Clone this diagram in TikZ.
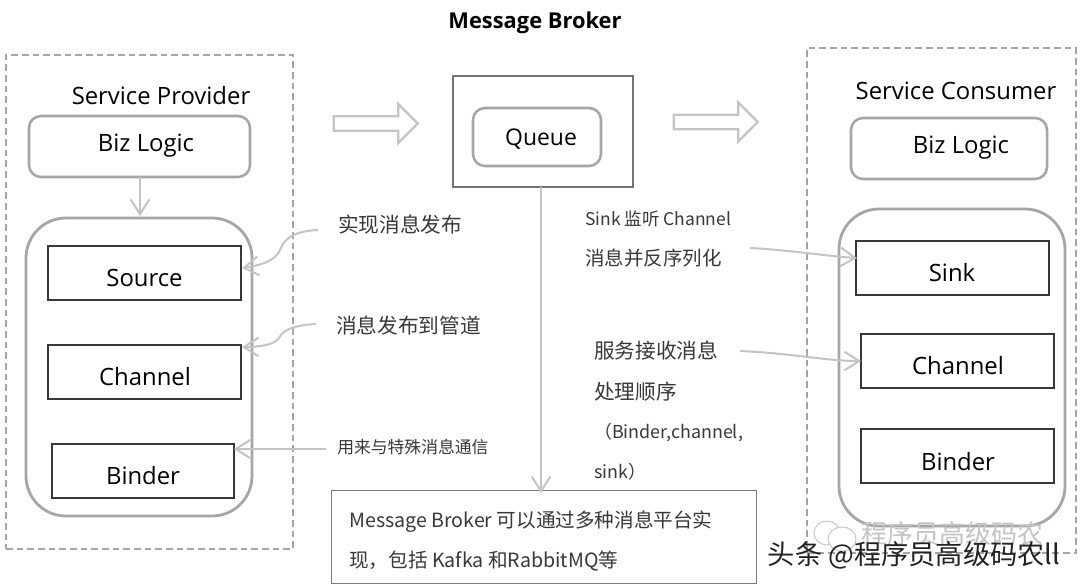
\documentclass[tikz,border=0pt]{standalone}
\usepackage{fontspec}
\setmainfont{Open Sans}
\newfontfamily\cjk{Noto Sans CJK SC}
\usetikzlibrary{shapes.arrows,arrows.meta}
\definecolor{edge}{HTML}{A6A6A6}
\definecolor{lite}{HTML}{C4C4C4}
\definecolor{ink}{HTML}{222222}
\tikzset{
  x=0.75pt,y=-0.75pt,
  bx/.style 2 args={minimum width=#1*0.75pt,minimum height=#2*0.75pt,inner sep=0pt,outer sep=0pt,anchor=center},
  dashbox/.style={draw=edge,line width=1.5pt,dash pattern=on 5pt off 3pt},
  round/.style={draw=edge,line width=1.9pt,rounded corners=9pt},
  biground/.style={draw=edge,line width=2.1pt,rounded corners=30pt},
  plain/.style={draw=ink!90,line width=0.9pt},
  lbl/.style={font=\fontsize{17.9}{20}\selectfont,text=black,inner sep=0pt},
  cn/.style={font=\fontsize{15.5}{16}\selectfont\cjk,text=ink!90,inner sep=0pt,anchor=west},
  hollow/.style={single arrow,draw=lite,line width=1.7pt,fill=white,minimum width=39*0.75pt,single arrow head extend=8.5*0.75pt,minimum height=84*0.75pt,inner sep=3pt},
  conn/.style={draw=lite,line width=1.5pt,-{Straight Barb[length=11pt,width=14pt,line width=1.5pt]}},
}
\begin{document}
\begin{tikzpicture}
\useasboundingbox (0,0) rectangle (1080,586);
\fill[white] (0,0) rectangle (1080,586);

\node[lbl,font=\fontsize{16.4}{20}\selectfont\bfseries] (title) at (535,22.5) {Message Broker};

% dashed frames
\node[dashbox,bx={287}{494}] (prov) at (149.5,302) {};
\node[dashbox,bx={269}{505}] (cons) at (941.5,300.5) {};
\node[lbl] (provt) at (161,96) {Service Provider};
\node[lbl] (const) at (956,91) {Service Consumer};

% provider
\node[round,bx={221}{61}] (bizl) at (139.5,146.5) {};
\node[lbl] (bizlt) at (146,146) {Biz Logic};
\node[biground,bx={226}{298}] (contl) at (139,367) {};
\node[plain,bx={193}{54}] (source) at (144.5,273) {};
\node[lbl] at (144.5,277.5) {Source};
\node[plain,bx={193}{54}] (chanl) at (144.5,372) {};
\node[lbl] at (145,376.5) {Channel};
\node[plain,bx={182}{54}] (bindl) at (143,471) {};
\node[lbl] at (143,475.5) {Binder};

% queue
\node[draw=edge!70!black,line width=2.2pt,bx={180}{111}] (broker) at (543,131.5) {};
\node[round,bx={128}{58}] (queue) at (537,137) {};
\node[lbl,font=\fontsize{17.2}{20}\selectfont] at (541,139.5) {Queue};

% consumer
\node[round,bx={196}{61}] (bizr) at (949,148.5) {};
\node[lbl] (bizrt) at (961,148) {Biz Logic};
\node[biground,bx={226}{317}] (contr) at (952,367.5) {};
\node[plain,bx={193}{54}] (sink) at (952.5,268) {};
\node[lbl] at (952,272.5) {Sink};
\node[plain,bx={193}{54}] (chanr) at (957.5,361) {};
\node[lbl] at (958,365.5) {Channel};
\node[plain,bx={193}{54}] (bindr) at (957.5,456) {};
\node[lbl] at (958,461.5) {Binder};

% hollow arrows
\node[hollow] (a1) at (372,123.5) {};
\node[hollow] (a2) at (712,122) {};

% bottom box
\node[draw=ink!60,line width=0.7pt,bx={425}{93}] (mb) at (543.5,536.5) {};
\node[cn,font=\fontsize{14.7}{16}\selectfont\cjk] (mb1) at (349,521.5) {Message Broker 可以通过多种消息平台实};
\node[cn,font=\fontsize{14.7}{16}\selectfont\cjk] (mb2) at (349,561.5) {现，包括 Kafka 和RabbitMQ等};

% left notes
\node[cn] (n1) at (338,225) {实现消息发布};
\node[cn] (n2) at (336,326) {消息发布到管道};
\node[cn,font=\fontsize{12.6}{14}\selectfont\cjk] (n3) at (337,447.5) {用来与特殊消息通信};

% right notes
\node[cn,font=\fontsize{13.1}{16}\selectfont\cjk] (r1) at (585,219) {Sink 监听 Channel};
\node[cn,font=\fontsize{14.6}{16}\selectfont\cjk] (r2) at (585,258.5) {消息并反序列化};
\node[cn] (r3) at (594,350.5) {服务接收消息};
\node[cn] (r4) at (594,391.5) {处理顺序};
\node[cn,font=\fontsize{13.4}{16}\selectfont\cjk] (r5) at (594,432.5) {（Binder,channel,};
\node[cn,font=\fontsize{13.4}{16}\selectfont\cjk] (r6) at (594,471.5) {sink）};

% connectors
\coordinate (b1) at (140,177);
\coordinate (b2) at (140,216);
\draw[conn] (b1) -- (b2);
\coordinate (q1) at (541,187);
\coordinate (q2) at (541,493);
\draw[conn] (q1) -- (q2);
\coordinate (s1) at (318,230);
\coordinate (s1e) at (242,268);
\draw[conn] (s1) .. controls (298,231) and (285,236) .. (280,250) .. controls (276,261) and (258,266) .. (s1e);
\coordinate (s2) at (316,324);
\coordinate (s2e) at (242,347);
\draw[conn] (s2) .. controls (298,325) and (284,328) .. (279,338) .. controls (275,345) and (258,347) .. (s2e);
\coordinate (s3) at (326,449);
\draw[conn] (s3) -- (bindl.east |- s3);
\coordinate (t1) at (750,248);
\coordinate (t1e) at (857,258);
\draw[conn] (t1) .. controls (790,250) and (825,256) .. (t1e);
\coordinate (t2) at (740,351);
\draw[conn] (t2) .. controls (790,353) and (825,361) .. (chanr.west);

% watermark
\draw[lite,line width=0.7pt,fill=white] (827,533) ellipse (13 and 12);
\draw[lite,line width=0.7pt,fill=white] (842,539) ellipse (14 and 12);
\node[font=\fontsize{19.5}{20}\selectfont\cjk,text=lite] (wm1) at (952,534) {程序员高级码农};
\node[font=\fontsize{20.4}{20}\selectfont\cjk,text=ink] (wm2) at (914,555) {头条 @程序员高级码农ll};
\end{tikzpicture}
\end{document}
